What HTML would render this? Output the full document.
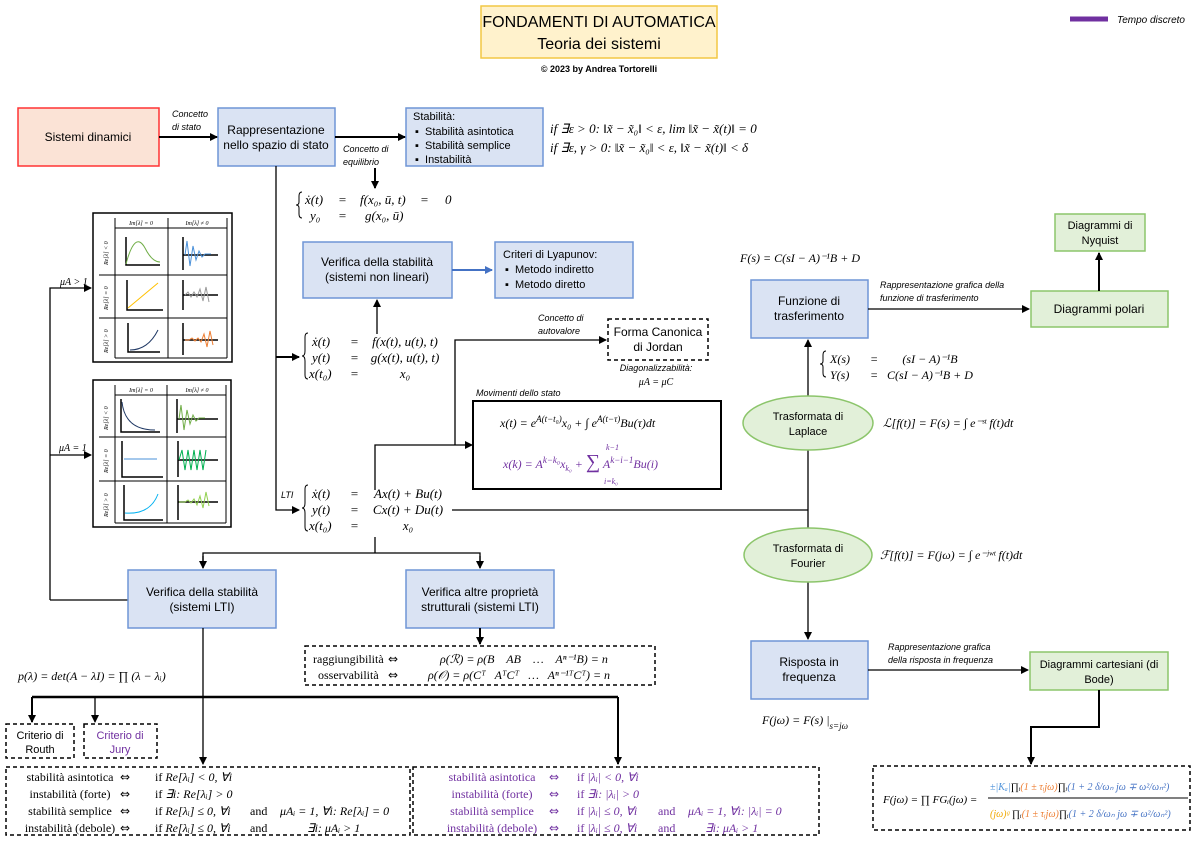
<!DOCTYPE html>
<html><head><meta charset="utf-8"><style>
body{margin:0;background:#fff;}
svg{display:block;font-family:"Liberation Sans",sans-serif;}
text{white-space:pre;}
.m{font-family:"Liberation Serif",serif;font-style:italic;}
.s{font-family:"Liberation Serif",serif;}
.it{font-style:italic;}
.eq{font-family:"DejaVu Sans",sans-serif;font-style:normal;font-size:12px;}
</style></head><body>
<svg width="1200" height="849" viewBox="0 0 1200 849" xmlns="http://www.w3.org/2000/svg">
<defs>
<marker id="a" markerWidth="8" markerHeight="8" refX="7" refY="4" orient="auto" markerUnits="userSpaceOnUse"><path d="M0,0 L8,4 L0,8 z" fill="#000"/></marker>
<marker id="ab" markerWidth="8" markerHeight="8" refX="7" refY="4" orient="auto" markerUnits="userSpaceOnUse"><path d="M0,0 L8,4 L0,8 z" fill="#4472c4"/></marker>
</defs>

<rect x="481" y="6" width="236" height="52" fill="#fff2cc" stroke="#f2c744" stroke-width="1.5"/>
<text x="599" y="27" text-anchor="middle" font-size="16">FONDAMENTI DI AUTOMATICA</text>
<text x="599" y="49" text-anchor="middle" font-size="16">Teoria dei sistemi</text>
<text x="599" y="72" text-anchor="middle" font-size="9" font-weight="bold">© 2023 by Andrea Tortorelli</text>
<line x1="1070" y1="19" x2="1108" y2="19" stroke="#7030a0" stroke-width="5"/>
<text x="1117" y="23" font-size="10" class="it">Tempo discreto</text>

<rect x="18" y="108" width="141" height="58" fill="#fbe3d6" stroke="#ff3333" stroke-width="1.5"/>
<text x="88" y="141" text-anchor="middle" font-size="12">Sistemi dinamici</text>
<rect x="218" y="108" width="117" height="58" fill="#dae3f3" stroke="#6f95d6" stroke-width="1.5"/>
<text x="276" y="134" text-anchor="middle" font-size="12">Rappresentazione</text>
<text x="276" y="149" text-anchor="middle" font-size="12">nello spazio di stato</text>
<rect x="406" y="108" width="137" height="58" fill="#dae3f3" stroke="#6f95d6" stroke-width="1.5"/>
<text x="413" y="120" font-size="11">Stabilità:</text>
<text x="415" y="135" font-size="11">▪  Stabilità asintotica</text>
<text x="415" y="149" font-size="11">▪  Stabilità semplice</text>
<text x="415" y="163" font-size="11">▪  Instabilità</text>
<line x1="159" y1="137" x2="217" y2="137" stroke="#000" stroke-width="2" marker-end="url(#a)"/>
<line x1="335" y1="137" x2="405" y2="137" stroke="#000" stroke-width="2" marker-end="url(#a)"/>
<text x="172" y="117" font-size="9" class="it">Concetto</text>
<text x="172" y="130" font-size="9" class="it">di stato</text>
<text x="343" y="152" font-size="9" class="it">Concetto di</text>
<text x="343" y="165" font-size="9" class="it">equilibrio</text>
<text x="550" y="133" font-size="13" class="m">if ∃ε &gt; 0: ‖x̃ − x̃₀‖ &lt; ε, lim ‖x̃ − x̃(t)‖ = 0</text>
<text x="550" y="152" font-size="13" class="m">if ∃ε, γ &gt; 0: ‖x̃ − x̃₀‖ &lt; ε, ‖x̃ − x̃(t)‖ &lt; δ</text>
<line x1="375" y1="168" x2="375" y2="188" stroke="#000" stroke-width="2" marker-end="url(#a)"/>
<path d="M302,192 q-3,0 -3,4 v6 q0,3 -3,3 q3,0 3,3 v6 q0,4 3,4" fill="none" stroke="#000"/>
<g font-size="13" class="m">
<text x="305" y="204">ẋ(t)</text><text x="338" y="204">=</text><text x="360" y="204">f(x₀, ū, t)</text><text x="420" y="204">=</text><text x="445" y="204">0</text>
<text x="310" y="220">y₀</text><text x="338" y="220">=</text><text x="365" y="220">g(x₀, ū)</text>
</g>

<polyline points="276,166 276,510 299,510" fill="none" stroke="#000" stroke-width="1.3" marker-end="url(#a)"/>
<line x1="276" y1="357" x2="299" y2="357" stroke="#000" stroke-width="2" marker-end="url(#a)"/>
<text x="281" y="498" font-size="9" class="it">LTI</text>

<rect x="303" y="242" width="149" height="56" fill="#dae3f3" stroke="#6f95d6" stroke-width="1.5"/>
<text x="377" y="266" text-anchor="middle" font-size="12">Verifica della stabilità</text>
<text x="377" y="281" text-anchor="middle" font-size="12">(sistemi non lineari)</text>
<line x1="452" y1="270" x2="492" y2="270" stroke="#4472c4" stroke-width="2" marker-end="url(#ab)"/>
<rect x="495" y="242" width="138" height="56" fill="#dae3f3" stroke="#6f95d6" stroke-width="1.5"/>
<text x="503" y="258" font-size="11">Criteri di Lyapunov:</text>
<text x="505" y="273" font-size="11">▪  Metodo indiretto</text>
<text x="505" y="288" font-size="11">▪  Metodo diretto</text>
<line x1="377" y1="334" x2="377" y2="300" stroke="#000" stroke-width="1.3" marker-end="url(#a)"/>
<path d="M308,333 q-3,0 -3,4 v14 q0,5 -3,5 q3,0 3,5 v14 q0,4 3,4" fill="none" stroke="#000"/>
<g font-size="13" class="m">
<text x="312" y="346">ẋ(t)</text><text x="350" y="346">=</text><text x="405" y="346" text-anchor="middle">f(x(t), u(t), t)</text>
<text x="312" y="362">y(t)</text><text x="350" y="362">=</text><text x="405" y="362" text-anchor="middle">g(x(t), u(t), t)</text>
<text x="309" y="378">x(t₀)</text><text x="350" y="378">=</text><text x="405" y="378" text-anchor="middle">x₀</text>
</g>

<polyline points="375,490 375,445 472,445" fill="none" stroke="#000" stroke-width="1.3" marker-end="url(#a)"/>
<polyline points="455,445 455,340 606,340" fill="none" stroke="#000" stroke-width="1.3" marker-end="url(#a)"/>
<text x="538" y="321" font-size="9" class="it">Concetto di</text>
<text x="538" y="334" font-size="9" class="it">autovalore</text>
<rect x="608" y="319" width="100" height="41" fill="#fff" stroke="#000" stroke-width="1.5" stroke-dasharray="4,3"/>
<text x="658" y="336" text-anchor="middle" font-size="12">Forma Canonica</text>
<text x="658" y="351" text-anchor="middle" font-size="12">di Jordan</text>
<text x="656" y="371" text-anchor="middle" font-size="9" class="it">Diagonalizzabilità:</text>
<text x="656" y="385" text-anchor="middle" font-size="10" class="m">μA = μC</text>
<text x="476" y="396" font-size="9" class="it">Movimenti dello stato</text>
<rect x="473" y="401" width="248" height="88" fill="#fff" stroke="#000" stroke-width="2"/>
<text x="500" y="427" font-size="12" class="m">x(t) = e<tspan font-size="9" dy="-5">A(t−t₀)</tspan><tspan dy="5">x₀ + ∫ e</tspan><tspan font-size="9" dy="-5">A(t−τ)</tspan><tspan dy="5">Bu(τ)dt</tspan></text>
<text x="503" y="468" font-size="12" class="m" fill="#7030a0">x(k) = A<tspan font-size="9" dy="-5">k−k₀</tspan><tspan dy="5">x</tspan><tspan font-size="8" dy="3">k₀</tspan><tspan dy="-3"> + </tspan><tspan font-size="20">∑</tspan><tspan> A</tspan><tspan font-size="9" dy="-5">k−i−1</tspan><tspan dy="5">Bu(i)</tspan></text>
<text x="606" y="450" font-size="8" class="m" fill="#7030a0">k−1</text>
<text x="604" y="484" font-size="8" class="m" fill="#7030a0">i=k₀</text>

<path d="M308,485 q-3,0 -3,4 v14 q0,5 -3,5 q3,0 3,5 v14 q0,4 3,4" fill="none" stroke="#000"/>
<g font-size="13" class="m">
<text x="312" y="498">ẋ(t)</text><text x="350" y="498">=</text><text x="408" y="498" text-anchor="middle">Ax(t) + Bu(t)</text>
<text x="312" y="514">y(t)</text><text x="350" y="514">=</text><text x="408" y="514" text-anchor="middle">Cx(t) + Du(t)</text>
<text x="309" y="530">x(t₀)</text><text x="350" y="530">=</text><text x="408" y="530" text-anchor="middle">x₀</text>
</g>
<line x1="452" y1="510" x2="808" y2="510" stroke="#000" stroke-width="1.3"/>

<line x1="808" y1="396" x2="808" y2="340" stroke="#000" stroke-width="1.3" marker-end="url(#a)"/>
<line x1="808" y1="450" x2="808" y2="528" stroke="#000" stroke-width="1.3"/>
<line x1="808" y1="582" x2="808" y2="639" stroke="#000" stroke-width="1.3" marker-end="url(#a)"/>
<text x="740" y="262" font-size="12" class="m">F(s) = C(sI − A)⁻¹B + D</text>
<rect x="751" y="280" width="117" height="58" fill="#dae3f3" stroke="#6f95d6" stroke-width="1.5"/>
<text x="809" y="305" text-anchor="middle" font-size="12">Funzione di</text>
<text x="809" y="320" text-anchor="middle" font-size="12">trasferimento</text>
<line x1="868" y1="309" x2="1029" y2="309" stroke="#000" stroke-width="1.3" marker-end="url(#a)"/>
<text x="880" y="288" font-size="9" class="it">Rappresentazione grafica della</text>
<text x="880" y="301" font-size="9" class="it">funzione di trasferimento</text>
<rect x="1031" y="291" width="137" height="36" fill="#e2f0d9" stroke="#8cc56b" stroke-width="1.5"/>
<text x="1099" y="313" text-anchor="middle" font-size="12">Diagrammi polari</text>
<rect x="1055" y="214" width="90" height="37" fill="#e2f0d9" stroke="#8cc56b" stroke-width="1.5"/>
<text x="1100" y="229" text-anchor="middle" font-size="11">Diagrammi di</text>
<text x="1100" y="244" text-anchor="middle" font-size="11">Nyquist</text>
<line x1="1099" y1="291" x2="1099" y2="253" stroke="#000" stroke-width="2" marker-end="url(#a)"/>
<path d="M826,351 q-3,0 -3,4 v6 q0,3 -3,3 q3,0 3,3 v6 q0,4 3,4" fill="none" stroke="#000"/>
<g font-size="12" class="m">
<text x="830" y="363">X(s)</text><text x="870" y="363">=</text><text x="930" y="363" text-anchor="middle">(sI − A)⁻¹B</text>
<text x="830" y="379">Y(s)</text><text x="870" y="379">=</text><text x="930" y="379" text-anchor="middle">C(sI − A)⁻¹B + D</text>
</g>
<ellipse cx="808" cy="423" rx="65" ry="27" fill="#e2f0d9" stroke="#8cc56b" stroke-width="1.5"/>
<text x="808" y="420" text-anchor="middle" font-size="11">Trasformata di</text>
<text x="808" y="435" text-anchor="middle" font-size="11">Laplace</text>
<text x="883" y="427" font-size="12" class="m">ℒ[f(t)] = F(s) = ∫ e⁻ˢᵗ f(t)dt</text>
<ellipse cx="808" cy="555" rx="64" ry="27" fill="#e2f0d9" stroke="#8cc56b" stroke-width="1.5"/>
<text x="808" y="552" text-anchor="middle" font-size="11">Trasformata di</text>
<text x="808" y="567" text-anchor="middle" font-size="11">Fourier</text>
<text x="880" y="559" font-size="12" class="m">ℱ[f(t)] = F(jω) = ∫ e⁻ʲʷᵗ f(t)dt</text>
<rect x="751" y="641" width="117" height="58" fill="#dae3f3" stroke="#6f95d6" stroke-width="1.5"/>
<text x="809" y="666" text-anchor="middle" font-size="12">Risposta in</text>
<text x="809" y="681" text-anchor="middle" font-size="12">frequenza</text>
<line x1="868" y1="670" x2="1028" y2="670" stroke="#000" stroke-width="1.3" marker-end="url(#a)"/>
<text x="888" y="650" font-size="9" class="it">Rappresentazione grafica</text>
<text x="888" y="663" font-size="9" class="it">della risposta in frequenza</text>
<rect x="1030" y="652" width="138" height="38" fill="#e2f0d9" stroke="#8cc56b" stroke-width="1.5"/>
<text x="1099" y="668" text-anchor="middle" font-size="11">Diagrammi cartesiani (di</text>
<text x="1099" y="683" text-anchor="middle" font-size="11">Bode)</text>
<polyline points="1099,690 1099,727 1031,727 1031,764" fill="none" stroke="#000" stroke-width="2" marker-end="url(#a)"/>
<text x="762" y="724" font-size="12" class="m">F(jω) = F(s) |<tspan font-size="9" dy="5">s=jω</tspan></text>
<rect x="873" y="766" width="317" height="64" fill="#fff" stroke="#000" stroke-width="1.5" stroke-dasharray="4,3"/>
<text x="883" y="803" font-size="11" class="m">F(jω) = ∏ FGᵢ(jω) =</text>
<line x1="988" y1="798" x2="1188" y2="798" stroke="#000" stroke-width="1"/>
<text x="990" y="790" font-size="10" class="m"><tspan fill="#4a90d9">±|Kₐ|</tspan>∏ᵢ<tspan fill="#ed7d31">(1 ± τᵢjω)</tspan>∏ᵢ<tspan fill="#4472c4">(1 + 2 δ/ωₙ jω ∓ ω²/ωₙ²)</tspan></text>
<text x="990" y="817" font-size="10" class="m"><tspan fill="#f0a800">(jω)ᵍ</tspan> ∏ᵢ<tspan fill="#ed7d31">(1 ± τᵢjω)</tspan>∏ᵢ<tspan fill="#4472c4">(1 + 2 δ/ωₙ jω ∓ ω²/ωₙ²)</tspan></text>

<g stroke="#000" fill="none" stroke-width="1">
<rect x="93" y="213" width="139" height="149" stroke-width="1.5"/>
<rect x="93" y="380" width="138" height="147" stroke-width="1.5"/>
<line x1="115" y1="218" x2="115" y2="358"/><line x1="168" y1="218" x2="168" y2="358"/><line x1="227" y1="218" x2="227" y2="358"/>
<line x1="115" y1="228" x2="227" y2="228"/><line x1="99" y1="275" x2="227" y2="275"/><line x1="99" y1="318" x2="227" y2="318"/><line x1="115" y1="358" x2="227" y2="358"/>
<line x1="115" y1="385" x2="115" y2="523"/><line x1="167" y1="385" x2="167" y2="523"/><line x1="226" y1="385" x2="226" y2="523"/>
<line x1="115" y1="395" x2="226" y2="395"/><line x1="99" y1="437" x2="226" y2="437"/><line x1="99" y1="481" x2="226" y2="481"/><line x1="115" y1="523" x2="226" y2="523"/>
</g>
<g font-size="6" text-anchor="middle" class="m">
<text x="141" y="225">Im[λ] = 0</text><text x="197" y="225">Im[λ] ≠ 0</text>
<text x="141" y="392">Im[λ] = 0</text><text x="197" y="392">Im[λ] ≠ 0</text>
</g>
<g font-size="6" class="m">
<text transform="translate(108,265) rotate(-90)">Re[λ] &lt; 0</text>
<text transform="translate(108,310) rotate(-90)">Re[λ] = 0</text>
<text transform="translate(108,353) rotate(-90)">Re[λ] &gt; 0</text>
<text transform="translate(108,430) rotate(-90)">Re[λ] &lt; 0</text>
<text transform="translate(108,473) rotate(-90)">Re[λ] = 0</text>
<text transform="translate(108,517) rotate(-90)">Re[λ] &gt; 0</text>
</g>
<g stroke="#000" stroke-width="1.5" fill="none">
<path d="M126,237 V265 H160"/><path d="M183,237 V270 M183,255 H218"/>
<path d="M127,280 V310 H163"/><path d="M183,280 V310 M183,295 H218"/>
<path d="M128,323 V352 H160"/><path d="M183,323 V355 M183,340 H218"/>
<path d="M121,399 V432 H160"/><path d="M177,399 V433 M177,419 H218"/>
<path d="M122,441 V477 H163"/><path d="M178,441 V477 M178,460 H218"/>
<path d="M124,485 V520 H163"/><path d="M178,485 V520 M178,502 H218"/>
</g>
<g fill="none" stroke-width="1">
<path d="M126,264 Q135,230 145,248 Q152,262 160,262" stroke="#70ad47"/>
<path d="M185,255 l2,-14 l3,25 l3,-20 l3,14 l3,-9 l3,6 l3,-3 l6,0" stroke="#4a90d9"/>
<path d="M128,308 L158,283" stroke="#ffc000"/>
<path d="M185,295 l3,-3 l3,5 l3,-5 l3,5 l3,-8 l3,12 l3,-14 l3,15" stroke="#999"/>
<path d="M130,350 Q148,350 158,330" stroke="#1f3864"/>
<path d="M185,340 l4,0 l3,-2 l3,3 l3,-3 l3,4 l3,-8 l3,13 l3,-16 l3,14" stroke="#ed7d31"/>
<path d="M122,402 Q125,430 155,430" stroke="#1f3864"/>
<path d="M179,419 l2,-14 l3,25 l3,-20 l3,14 l3,-9 l3,6 l3,-3 l6,0" stroke="#70ad47"/>
<path d="M124,459 H157" stroke="#4a90d9"/>
<path d="M179,460 l3,-10 l3,20 l3,-20 l3,20 l3,-20 l3,20 l3,-20 l3,20 l3,-20" stroke="#00b050"/>
<path d="M125,513 Q150,515 158,494" stroke="#00b0f0"/>
<path d="M179,502 l6,0 l3,-2 l3,3 l3,-4 l3,6 l3,-9 l3,12 l3,-16 l3,14" stroke="#92d050"/>
</g>
<polyline points="50,600 50,288 91,288" fill="none" stroke="#000" stroke-width="1.3" marker-end="url(#a)"/>
<line x1="50" y1="455" x2="91" y2="455" stroke="#000" stroke-width="1.3" marker-end="url(#a)"/>
<line x1="50" y1="600" x2="128" y2="600" stroke="#000" stroke-width="1.3"/>
<text x="60" y="285" font-size="10" class="m">μA &gt; 1</text>
<text x="59" y="451" font-size="10" class="m">μA = 1</text>

<polyline points="375,537 375,553" fill="none" stroke="#000" stroke-width="1.3"/>
<polyline points="203,568 203,553 480,553 480,568" fill="none" stroke="#000" stroke-width="1.3"/>
<line x1="203" y1="556" x2="203" y2="568" stroke="#000" stroke-width="1.3" marker-end="url(#a)"/>
<line x1="480" y1="556" x2="480" y2="568" stroke="#000" stroke-width="1.3" marker-end="url(#a)"/>
<rect x="128" y="570" width="148" height="58" fill="#dae3f3" stroke="#6f95d6" stroke-width="1.5"/>
<text x="202" y="596" text-anchor="middle" font-size="12">Verifica della stabilità</text>
<text x="202" y="611" text-anchor="middle" font-size="12">(sistemi LTI)</text>
<rect x="406" y="570" width="148" height="58" fill="#dae3f3" stroke="#6f95d6" stroke-width="1.5"/>
<text x="480" y="596" text-anchor="middle" font-size="12">Verifica altre proprietà</text>
<text x="480" y="611" text-anchor="middle" font-size="12">strutturali (sistemi LTI)</text>
<line x1="480" y1="628" x2="480" y2="644" stroke="#000" stroke-width="2" marker-end="url(#a)"/>
<rect x="305" y="646" width="350" height="39" fill="#fff" stroke="#000" stroke-width="1.5" stroke-dasharray="4,3"/>
<g font-size="12" class="s">
<text x="313" y="663">raggiungibilità</text><text x="388" y="663" class="eq">⇔</text>
<text x="440" y="663" class="m">ρ(ℛ) = ρ(B    AB    …    Aⁿ⁻¹B) = n</text>
<text x="318" y="679">osservabilità</text><text x="388" y="679" class="eq">⇔</text>
<text x="428" y="679" class="m">ρ(𝒪) = ρ(Cᵀ   AᵀCᵀ   …   Aⁿ⁻¹ᵀCᵀ) = n</text>
</g>
<text x="18" y="680" font-size="12" class="m">p(λ) = det(A − λI) = ∏ (λ − λᵢ)</text>

<line x1="203" y1="628" x2="203" y2="764" stroke="#000" stroke-width="1.3" marker-end="url(#a)"/>
<line x1="32" y1="697" x2="618" y2="697" stroke="#000" stroke-width="2.5"/>
<line x1="32" y1="697" x2="32" y2="722" stroke="#000" stroke-width="2" marker-end="url(#a)"/>
<line x1="95" y1="697" x2="95" y2="722" stroke="#000" stroke-width="1.3" marker-end="url(#a)"/>
<line x1="618" y1="697" x2="618" y2="764" stroke="#000" stroke-width="2" marker-end="url(#a)"/>
<rect x="6" y="724" width="68" height="34" fill="#fff" stroke="#000" stroke-width="1.5" stroke-dasharray="4,3"/>
<text x="40" y="739" text-anchor="middle" font-size="11">Criterio di</text>
<text x="40" y="753" text-anchor="middle" font-size="11">Routh</text>
<rect x="84" y="724" width="73" height="34" fill="#fff" stroke="#000" stroke-width="1.5" stroke-dasharray="4,3"/>
<text x="120" y="739" text-anchor="middle" font-size="11" fill="#7030a0">Criterio di</text>
<text x="120" y="753" text-anchor="middle" font-size="11" fill="#7030a0">Jury</text>

<rect x="6" y="767" width="404" height="68" fill="#fff" stroke="#000" stroke-width="1.5" stroke-dasharray="4,3"/>
<g font-size="12" class="s">
<g text-anchor="middle">
<text x="70" y="781">stabilità asintotica</text>
<text x="70" y="798">instabilità (forte)</text>
<text x="70" y="815">stabilità semplice</text>
<text x="70" y="832">instabilità (debole)</text>
</g>
<text x="120" y="781" class="eq">⇔</text><text x="120" y="798" class="eq">⇔</text><text x="120" y="815" class="eq">⇔</text><text x="120" y="832" class="eq">⇔</text>
<text x="155" y="781">if <tspan class="m">Re[λᵢ] &lt; 0, ∀i</tspan></text>
<text x="155" y="798">if <tspan class="m">∃i: Re[λᵢ] &gt; 0</tspan></text>
<text x="155" y="815">if <tspan class="m">Re[λᵢ] ≤ 0, ∀i</tspan></text>
<text x="155" y="832">if <tspan class="m">Re[λᵢ] ≤ 0, ∀i</tspan></text>
<text x="250" y="815">and</text><text x="250" y="832">and</text>
<text x="280" y="815" class="m">μAᵢ = 1, ∀i: Re[λᵢ] = 0</text>
<text x="307" y="832" class="m">∃i: μAᵢ &gt; 1</text>
</g>
<rect x="413" y="767" width="406" height="68" fill="#fff" stroke="#000" stroke-width="1.5" stroke-dasharray="4,3"/>
<g font-size="12" class="s" fill="#7030a0">
<g text-anchor="middle">
<text x="492" y="781">stabilità asintotica</text>
<text x="492" y="798">instabilità (forte)</text>
<text x="492" y="815">stabilità semplice</text>
<text x="492" y="832">instabilità (debole)</text>
</g>
<text x="549" y="781" class="eq">⇔</text><text x="549" y="798" class="eq">⇔</text><text x="549" y="815" class="eq">⇔</text><text x="549" y="832" class="eq">⇔</text>
<text x="577" y="781">if <tspan class="m">|λᵢ| &lt; 0, ∀i</tspan></text>
<text x="577" y="798">if <tspan class="m">∃i: |λᵢ| &gt; 0</tspan></text>
<text x="577" y="815">if <tspan class="m">|λᵢ| ≤ 0, ∀i</tspan></text>
<text x="577" y="832">if <tspan class="m">|λᵢ| ≤ 0, ∀i</tspan></text>
<text x="658" y="815">and</text><text x="658" y="832">and</text>
<text x="688" y="815" class="m">μAᵢ = 1, ∀i: |λᵢ| = 0</text>
<text x="705" y="832" class="m">∃i: μAᵢ &gt; 1</text>
</g>
</svg>
</body></html>
